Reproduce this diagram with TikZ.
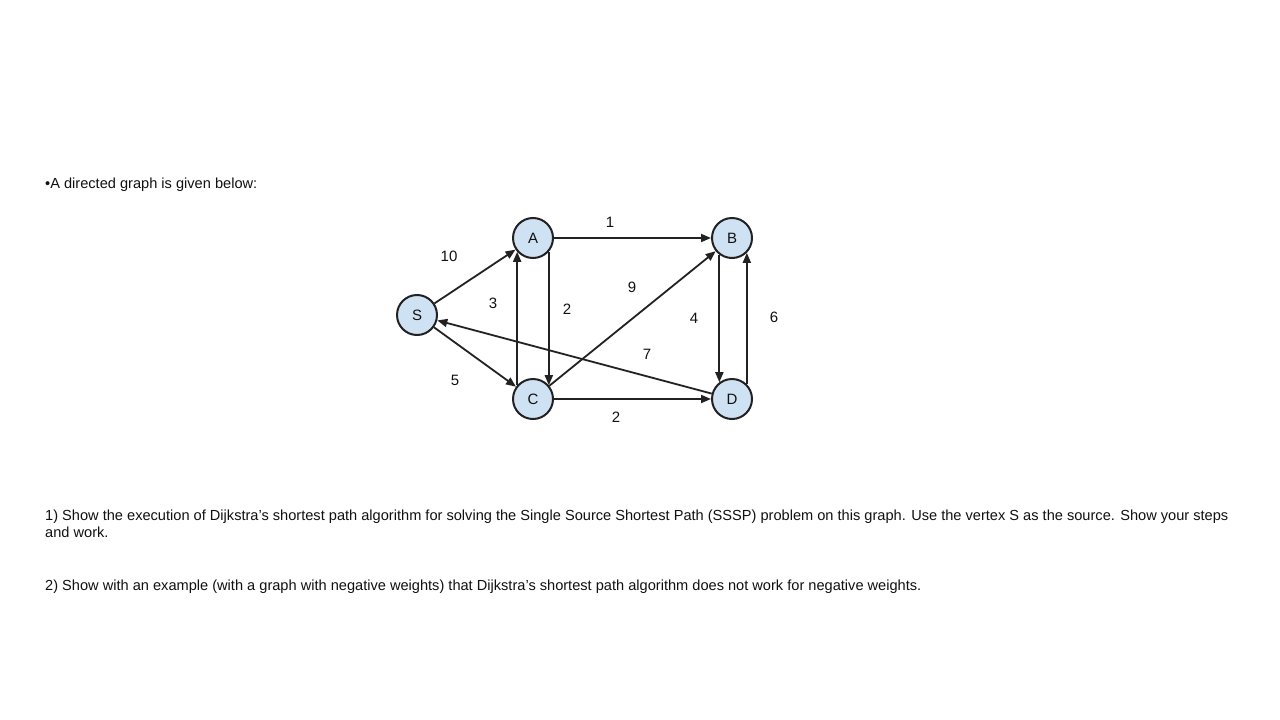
\documentclass[tikz,border=0pt]{standalone}
\usepackage{fontspec}
\setmainfont{Liberation Sans}
\usetikzlibrary{arrows.meta}
\definecolor{nodefill}{HTML}{CFE2F3}
\definecolor{edgecol}{HTML}{222222}
\definecolor{textcol}{HTML}{111111}
\begin{document}
\begin{tikzpicture}[x=1pt,y=-1pt,
  vertex/.style={circle,draw=edgecol,line width=2pt,fill=nodefill,minimum size=40pt,inner sep=0pt,font=\fontsize{15}{17}\selectfont,text=textcol},
  edge/.style={draw=edgecol,line width=1.8pt,-{Triangle[length=10pt,width=8pt]}},
  wlabel/.style={font=\fontsize{15}{17}\selectfont,text=textcol},
  para/.style={anchor=base west,inner sep=0pt,font=\fontsize{14.6}{17}\selectfont,text=textcol}]
\useasboundingbox (0,0) rectangle (1280,720);
\fill[white] (0,0) rectangle (1280,720);

\node[para] (title) at (45,188) {•A directed graph is given below:};

\node[vertex] (S) at (417,315) {S};
\node[vertex] (A) at (533,238) {A};
\node[vertex] (B) at (732,238) {B};
\node[vertex] (C) at (533,399) {C};
\node[vertex] (D) at (732,399) {D};

\draw[edge] (S) -- (A);
\draw[edge] (S) -- (C);
\draw[edge] (A) -- (B);
\draw[edge] (C) -- (D);
\draw[edge] (A.-41) -- (C.41);
\draw[edge] (C.139) -- (A.-139);
\draw[edge] (B.-127.5) -- (D.127.5);
\draw[edge] (D.45) -- (B.-45);
\draw[edge] (C) -- (B);
\draw[edge] (D) -- (S);

\node[wlabel] (l1) at (610,222) {1};
\node[wlabel] (l10) at (449,256) {10};
\node[wlabel] (l3) at (493,303) {3};
\node[wlabel] (l2a) at (567,309) {2};
\node[wlabel] (l9) at (632,287) {9};
\node[wlabel] (l4) at (694,318) {4};
\node[wlabel] (l6) at (774,317) {6};
\node[wlabel] (l7) at (647,354) {7};
\node[wlabel] (l5) at (455,380) {5};
\node[wlabel] (l2b) at (616,417) {2};

\node[para] (q1a) at (45,520) {1) Show the execution of Dijkstra’s shortest path algorithm for solving the Single Source Shortest Path (SSSP) problem on this graph. Use the vertex S as the source. Show your steps};
\node[para] (q1b) at (45,537) {and work.};
\node[para] (q2) at (45,590) {2) Show with an example (with a graph with negative weights) that Dijkstra’s shortest path algorithm does not work for negative weights.};
\end{tikzpicture}
\end{document}
